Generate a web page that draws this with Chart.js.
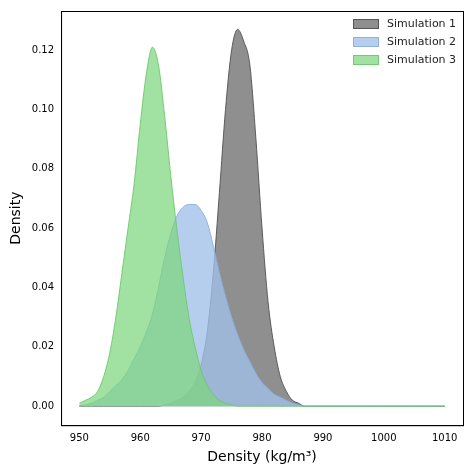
<!DOCTYPE html>
<html><head><meta charset="utf-8">
<script src="https://cdn.jsdelivr.net/npm/chart.js@4/dist/chart.umd.min.js"></script>
<style>html,body{margin:0;padding:0;background:#fff}#w{width:474px;height:474px}</style>
</head><body><div id="w"><canvas id="c"></canvas></div>
<script>
const xStart = 950;
const sim1 = [0,0,0,0,0,0,0,0,0,0,0,0,0,0,0.0005,0.001,0.002,0.003,0.005,0.008,0.014,0.025,0.045,0.072,0.100,0.120,0.127,0.123,0.115,0.090,0.060,0.035,0.020,0.010,0.005,0.002,0.001];
const sim2 = [0.0002,0.0005,0.001,0.002,0.003,0.005,0.007,0.009,0.012,0.016,0.020,0.025,0.031,0.040,0.050,0.058,0.064,0.067,0.068,0.068,0.066,0.062,0.054,0.045,0.037,0.030,0.024,0.019,0.015,0.011,0.008,0.006,0.004,0.003,0.002,0.001,0.0005];
const sim3 = [0.001,0.002,0.003,0.005,0.010,0.018,0.030,0.045,0.060,0.075,0.095,0.112,0.121,0.115,0.098,0.078,0.060,0.044,0.030,0.020,0.012,0.007,0.004,0.002,0.001,0.0005];
const labels = ['Simulation 1','Simulation 2','Simulation 3'];
const xTicks = [950,960,970,980,990,1000,1010];
const yTicks = [0,0.02,0.04,0.06,0.08,0.1,0.12];
function pts(a){const o=[];for(let x=950;x<=1010;x++){const i=x-xStart;o.push({x:x,y:i<a.length?a[i]:0});}return o;}
const styles=[['rgba(100,100,100,0.72)','rgba(80,80,80,0.9)'],['rgba(160,192,232,0.78)','rgba(140,175,225,0.9)'],['rgba(125,214,125,0.72)','rgba(110,200,110,0.9)']];
const data=[sim1,sim2,sim3];
const frameLegend={id:'fl',afterDraw(ch){const c=ch.ctx,a=ch.chartArea;c.save();c.strokeStyle='#000';c.lineWidth=1;c.strokeRect(a.left+0.5,a.top+0.5,a.right-a.left,a.bottom-a.top);
c.font='11px "DejaVu Sans"';c.textBaseline='middle';c.fillStyle='#222';
labels.forEach((l,i)=>{const y=a.top+13+i*18;const bx=a.right-110;c.fillStyle=styles[i][0];c.fillRect(bx,y-5,26,10);c.strokeStyle=styles[i][1];c.strokeRect(bx+0.5,y-4.5,25,9);c.fillStyle='#222';c.fillText(l,bx+34,y);});c.restore();}};
new Chart(document.getElementById('c'),{type:'line',
data:{datasets:data.map((d,i)=>({label:labels[i],data:pts(d),fill:'origin',backgroundColor:styles[i][0],borderColor:styles[i][1],borderWidth:1,pointRadius:0,cubicInterpolationMode:'monotone',order:3-i}))},
options:{responsive:true,maintainAspectRatio:false,animation:false,
layout:{padding:{left:4,right:11,top:11,bottom:4}},
plugins:{legend:{display:false},tooltip:{enabled:false}},
scales:{x:{type:'linear',min:947,max:1013,afterBuildTicks:ax=>{ax.ticks=xTicks.map(v=>({value:v}));},grid:{display:false,drawTicks:true,tickLength:4,tickColor:'#000'},border:{color:'#000'},ticks:{color:'#000',font:{family:'DejaVu Sans',size:10},callback:v=>String(v)},title:{display:true,text:'Density (kg/m³)',font:{family:'DejaVu Sans',size:14},color:'#000',padding:{top:2}}},
y:{min:-0.0064,max:0.1332,afterBuildTicks:ax=>{ax.ticks=yTicks.map(v=>({value:v}));},grid:{display:false,tickLength:4,tickColor:'#000'},border:{color:'#000'},ticks:{color:'#000',font:{family:'DejaVu Sans',size:10},callback:v=>v.toFixed(2)},title:{display:true,text:'Density',font:{family:'DejaVu Sans',size:14},color:'#000'}}}},
plugins:[frameLegend]
});
</script></body></html>
